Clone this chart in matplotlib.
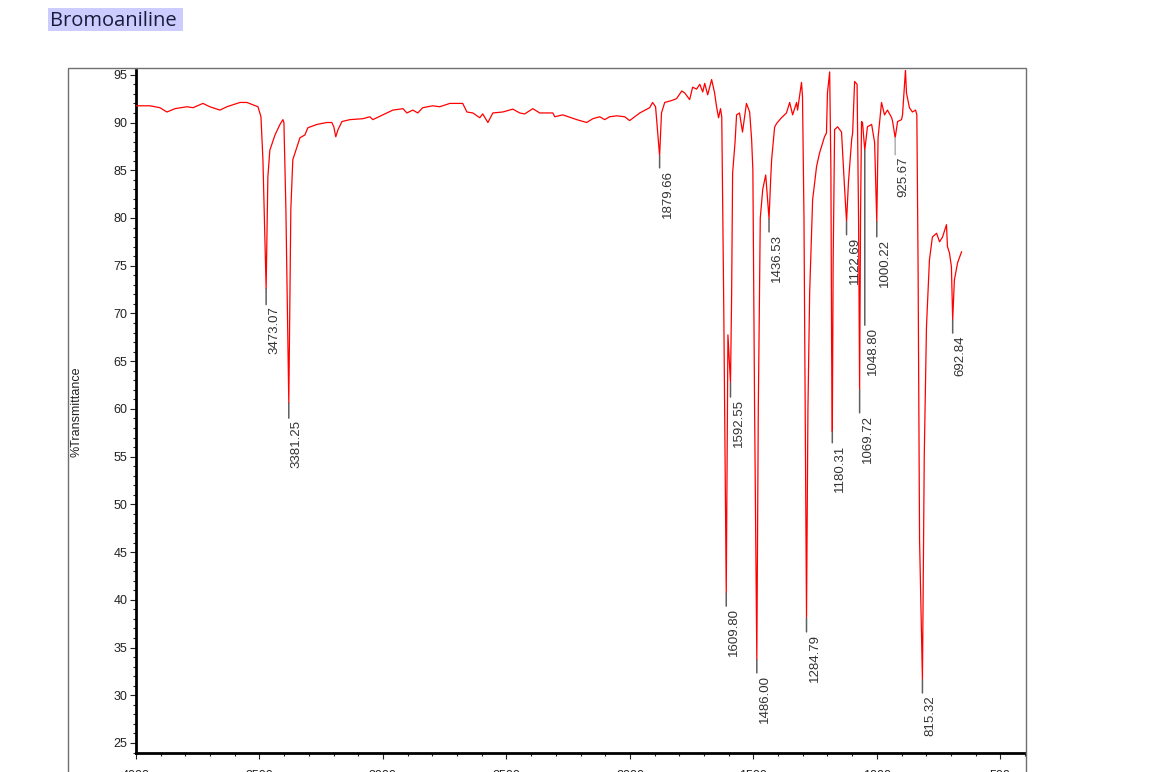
import matplotlib
matplotlib.use("Agg")
import matplotlib.pyplot as plt
import numpy as np
from matplotlib.patches import Rectangle
from matplotlib.ticker import MultipleLocator

# Espectro IR (número de onda en cm-1, %T)
numero_onda = [
    4000, 3943, 3903, 3875, 3842, 3794, 3769, 3729, 3701, 3660, 3632, 3579, 3551,
    3506, 3494, 3486, 3473.07, 3466, 3458, 3437, 3417, 3405, 3401, 3393, 3381.25,
    3373, 3365, 3336, 3316, 3304, 3267, 3227, 3207, 3199, 3191, 3182, 3166, 3134,
    3081, 3053, 3041, 3000, 2960, 2919, 2903, 2879, 2859, 2839, 2798, 2770, 2729,
    2677, 2660, 2636, 2608, 2596, 2575, 2555, 2515, 2474, 2446, 2426, 2393, 2365,
    2312, 2304, 2272, 2215, 2175, 2150, 2122, 2102, 2082, 2053, 2021, 2001, 1960,
    1920, 1908, 1896, 1879.66, 1872, 1859, 1831, 1811, 1790, 1778, 1758, 1746,
    1730, 1717, 1705, 1697, 1685, 1669, 1657, 1649, 1641, 1633, 1628, 1620,
    1609.80, 1603, 1592.55, 1588, 1584, 1574, 1568, 1556, 1544, 1528, 1515, 1507,
    1502, 1495, 1486.00, 1480, 1472, 1462, 1450, 1436.53, 1430, 1426, 1414, 1406,
    1386, 1366, 1353, 1341, 1325, 1321, 1305, 1301, 1295, 1290, 1284.79, 1279,
    1272, 1260, 1244, 1232, 1212, 1204, 1200, 1191, 1186, 1183, 1180.31, 1177,
    1171, 1159, 1143, 1131, 1122.69, 1115, 1102, 1098, 1090, 1080, 1074, 1069.72,
    1066, 1062, 1058, 1048.80, 1038, 1021, 1009, 1000.22, 995, 981, 969, 957, 940,
    936, 925.67, 916, 900, 896, 884, 880, 868, 856, 843, 838, 833, 827, 815.32,
    808, 799, 787, 775, 758, 746, 734, 718, 714, 706, 698, 692.84, 686, 673, 657,
]
transmitancia = [
    91.75, 91.75, 91.55, 91.1, 91.45, 91.65, 91.55, 92.0, 91.65, 91.3, 91.65, 92.1, 92.1,
    91.65, 90.6, 86.1, 72.6, 84.3, 87.1, 88.7, 89.8, 90.3, 90.0, 80.9, 60.6,
    80.9, 86.1, 88.4, 88.7, 89.45, 89.8, 90.0, 90.0, 89.55, 88.5, 89.25, 90.1, 90.3,
    90.4, 90.6, 90.3, 90.8, 91.3, 91.45, 91.0, 91.3, 91.0, 91.55, 91.75, 91.65, 92.0,
    92.0, 91.1, 91.0, 90.5, 90.9, 90.0, 91.0, 91.1, 91.4, 91.0, 90.9, 91.45, 91.0,
    91.0, 90.6, 90.8, 90.3, 90.0, 90.4, 90.6, 90.3, 90.6, 90.7, 90.6, 90.2, 91.0,
    91.55, 92.1, 91.65, 86.5, 91.0, 92.1, 92.3, 92.5, 93.3, 93.1, 92.4, 93.7,
    93.5, 94.0, 93.2, 94.1, 92.9, 94.5, 93.1, 91.65, 90.5, 91.45, 90.6, 71.0,
    40.7, 67.75, 62.7, 72.0, 84.7, 88.0, 90.8, 91.0, 89.0, 92.0, 91.1, 88.2,
    85.0, 60.0, 33.7, 60.0, 80.0, 83.0, 84.5, 79.9, 84.0, 86.1, 89.5, 89.9,
    90.5, 91.0, 92.1, 90.8, 92.1, 91.3, 94.2, 92.7, 80.0, 60.0, 38.1, 60.0,
    72.2, 81.9, 85.4, 86.8, 88.5, 88.9, 93.1, 95.3, 85.0, 66.0, 57.6, 75.0,
    89.25, 89.55, 89.0, 83.3, 79.6, 83.7, 88.2, 88.9, 94.3, 94.0, 80.0, 62.0,
    80.0, 90.1, 90.0, 87.1, 89.55, 89.8, 87.9, 79.6, 88.4, 92.1, 90.8, 91.3, 90.5,
    90.1, 88.4, 90.1, 90.3, 90.8, 95.5, 93.1, 91.55, 91.1, 91.3, 90.8, 75.0, 46.3, 31.6,
    55.0, 68.6, 75.6, 78.0, 78.4, 77.5, 78.0, 79.3, 77.0, 76.35, 74.9, 69.3, 73.5, 75.3, 76.45,
]

# Picos etiquetados
picos = [3473.07, 3381.25, 1879.66, 1609.80, 1592.55, 1486.00, 1436.53, 1284.79,
         1180.31, 1122.69, 1069.72, 1048.80, 1000.22, 925.67, 815.32, 692.84]
# Longitud de la línea guía de cada etiqueta (px)
guias = [16, 15, 12, 13, 14, 13, 13, 14, 11, 13, 23, 175, 15, 17, 13, 13]

x = np.array(numero_onda)
y = np.array(transmitancia)

plt.rcParams['font.family'] = ['Liberation Sans', 'DejaVu Sans']

fig = plt.figure(figsize=(11.63, 7.72), dpi=100)
W, H = 1163, 772

# Marco exterior gris
fig.add_artist(Rectangle((68 / W, -0.1), (1026 - 68) / W, 0.1 + 1 - 68 / H,
                         transform=fig.transFigure, fill=False,
                         edgecolor='#707070', linewidth=1.0))

# Título con fondo resaltado
fig.add_artist(Rectangle((48 / W, 1 - 31 / H), 135 / W, 23 / H,
                         transform=fig.transFigure, facecolor='#ccccff',
                         edgecolor='none'))
fig.text(50 / W, 1 - 26 / H, 'Bromoaniline', family='Open Sans', fontsize=14.5,
         color='#1a1a3a', va='baseline', ha='left')

ax = fig.add_axes([136 / W, (H - 753) / H, (1025 - 136) / W, (753 - 70) / H])
ax.plot(x, y, color='#ff0000', linewidth=0.9, zorder=3)

ax.set_xlim(4000, 400)
ax.set_ylim(23.95, 95.5)

for lado in ['top', 'right']:
    ax.spines[lado].set_visible(False)
for lado in ['left', 'bottom']:
    ax.spines[lado].set_linewidth(2.0)
    ax.spines[lado].set_color('black')

ax.xaxis.set_major_locator(MultipleLocator(500))
ax.xaxis.set_minor_locator(MultipleLocator(100))
ax.yaxis.set_major_locator(MultipleLocator(5))
ax.yaxis.set_minor_locator(MultipleLocator(1))
ax.tick_params(which='major', direction='out', length=4, width=0.8, labelsize=9,
               pad=2, colors='#222222')
ax.tick_params(which='minor', direction='out', length=2, width=0.8, colors='#222222')
# las etiquetas del eje x quedan casi fuera del recorte, como en el original
ax.tick_params(axis='x', which='major', pad=8)

ax.set_ylabel('%Transmittance', fontsize=9, color='#222222')
ax.yaxis.set_label_coords(-0.06, 0.5)

# Etiquetas de los picos
for p, g in zip(picos, guias):
    t = np.interp(p, x[::-1], y[::-1])
    color_guia = '#b0b0b0' if p == 925.67 else '#606060'
    ax.annotate('', xy=(p, t), xytext=(0, -g), textcoords='offset pixels',
                arrowprops=dict(arrowstyle='-', color=color_guia, lw=1.1,
                                shrinkA=0, shrinkB=0), zorder=4)
    ax.annotate('%.2f' % p, xy=(p, t), xytext=(8, -g - 2), textcoords='offset pixels',
                rotation=90, ha='center', va='top', fontsize=9.5, color='#333333')

fig.savefig('out.png', dpi=100)
